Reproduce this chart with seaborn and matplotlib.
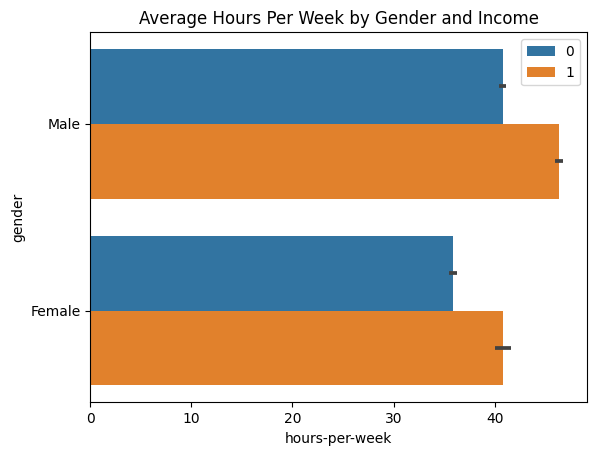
import numpy as np
import pandas as pd
import seaborn as sns
import matplotlib.pyplot as plt

# =========================
# Data
# =========================
genders = ["Male", "Male", "Female", "Female"]
income = ["0", "1", "0", "1"]
mean_hours = [40.8, 46.4, 35.9, 40.8]
ci_half = [0.35, 0.4, 0.4, 0.8]

df = pd.DataFrame({"gender": genders, "income": income, "hours-per-week": mean_hours})

# =========================
# Plot
# =========================
fig = plt.figure(figsize=(5.95, 4.55), dpi=100)
ax = fig.add_axes([90.3 / 595, 1 - 402.3 / 455, (587 - 90.3) / 595, (402.3 - 32.3) / 455])

sns.barplot(data=df, x="hours-per-week", y="gender", hue="income",
            errorbar=None, ax=ax)

# error bars drawn at the bar centres
for container, lbl in zip(ax.containers, ["0", "1"]):
    for bar in container:
        y = bar.get_y() + bar.get_height() / 2
        w = bar.get_width()
        i = [k for k in range(len(df)) if df["income"][k] == lbl and abs(df["hours-per-week"][k] - w) < 1e-9][0]
        ax.plot([w - ci_half[i], w + ci_half[i]], [y, y], color=".26", lw=2.7,
                solid_capstyle="butt", zorder=3)

ax.relim()
ax.autoscale_view()
ax.legend(loc="upper right")
ax.set_title("Average Hours Per Week by Gender and Income")

plt.savefig("out.png", dpi=100)
